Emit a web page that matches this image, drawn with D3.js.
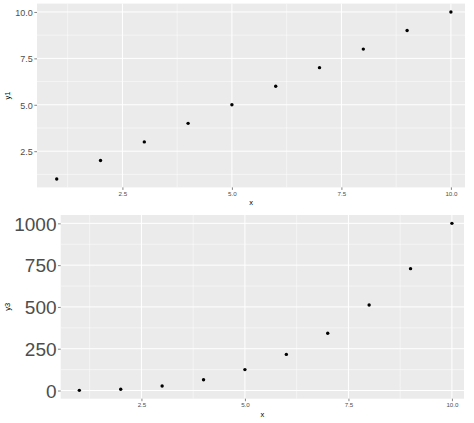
<!DOCTYPE html>
<html>
<head>
<meta charset="utf-8">
<script src="https://cdn.jsdelivr.net/npm/d3@7"></script>
<style>
  body { margin: 0; background: #fff; }
  svg { display: block; font-family: "Liberation Sans", Arial, sans-serif; }
</style>
</head>
<body>
<div class="chart"></div>
<script>
var svgWidth = 474;
var svgHeight = 423;

// data
var xVals = [1, 2, 3, 4, 5, 6, 7, 8, 9, 10];
var y1Vals = [1, 2, 3, 4, 5, 6, 7, 8, 9, 10];
var y3Vals = [1, 8, 27, 64, 125, 216, 343, 512, 729, 1000];
var xTicks = [2.5, 5.0, 7.5, 10.0];
var y1Ticks = [2.5, 5.0, 7.5, 10.0];
var y3Ticks = [0, 250, 500, 750, 1000];

var svg = d3.select(".chart")
  .append("svg")
  .attr("width", svgWidth)
  .attr("height", svgHeight);

// panel box in pixels; right edge of the plot is cut off a little
function drawPanel(p) {
  var xScale = d3.scaleLinear()
    .domain([0.55, 10.45])
    .range([p.left, p.left + p.unitX * 9.9]);

  var yExt = d3.extent(p.yData);
  var pad = (yExt[1] - yExt[0]) * 0.05;
  var yScale = d3.scaleLinear()
    .domain([yExt[0] - pad, yExt[1] + pad])
    .range([p.bottom, p.top]);

  var g = svg.append("g");

  g.append("rect")
    .attr("x", p.left)
    .attr("y", p.top)
    .attr("width", p.right - p.left)
    .attr("height", p.bottom - p.top)
    .attr("fill", "#EBEBEB");

  // minor grid
  var xMinor = xTicks.map(d => d - 1.25).filter(d => xScale(d) > p.left);
  var yMinor = p.yTicks.map(d => d - (p.yTicks[1] - p.yTicks[0]) / 2)
    .filter(d => yScale(d) < p.bottom);

  g.selectAll(".xminor").data(xMinor).enter().append("line")
    .attr("x1", d => xScale(d)).attr("x2", d => xScale(d))
    .attr("y1", p.top).attr("y2", p.bottom)
    .attr("stroke", "#fff").attr("stroke-width", 0.5);

  g.selectAll(".yminor").data(yMinor).enter().append("line")
    .attr("x1", p.left).attr("x2", p.right)
    .attr("y1", d => yScale(d)).attr("y2", d => yScale(d))
    .attr("stroke", "#fff").attr("stroke-width", 0.5);

  // major grid
  g.selectAll(".xmajor").data(xTicks).enter().append("line")
    .attr("x1", d => xScale(d)).attr("x2", d => xScale(d))
    .attr("y1", p.top).attr("y2", p.bottom)
    .attr("stroke", "#fff").attr("stroke-width", 1);

  g.selectAll(".ymajor").data(p.yTicks).enter().append("line")
    .attr("x1", p.left).attr("x2", p.right)
    .attr("y1", d => yScale(d)).attr("y2", d => yScale(d))
    .attr("stroke", "#fff").attr("stroke-width", 1);

  // points
  g.selectAll("circle").data(xVals).enter().append("circle")
    .attr("cx", d => xScale(d))
    .attr("cy", (d, i) => yScale(p.yData[i]))
    .attr("r", 1.7)
    .attr("fill", "#000");

  // axes
  var bottomAxis = d3.axisBottom(xScale)
    .tickValues(xTicks)
    .tickSize(2.5)
    .tickPadding(1.5)
    .tickFormat(d3.format(".1f"));

  var xAxis = g.append("g")
    .attr("transform", `translate(0, ${p.bottom})`)
    .call(bottomAxis);
  xAxis.select(".domain").remove();
  xAxis.selectAll("line").attr("stroke", "#333").attr("stroke-width", 0.6);
  xAxis.selectAll("text").attr("fill", "#4D4D4D").attr("font-size", 6.2);

  var leftAxis = d3.axisLeft(yScale)
    .tickValues(p.yTicks)
    .tickSize(2.7)
    .tickPadding(1.5)
    .tickFormat(p.yFormat);

  var yAxis = g.append("g")
    .attr("transform", `translate(${p.left}, 0)`)
    .call(leftAxis);
  yAxis.select(".domain").remove();
  yAxis.selectAll("line").attr("stroke", "#333").attr("stroke-width", 0.6);
  yAxis.selectAll("text")
    .attr("fill", "#4D4D4D")
    .attr("font-size", p.yFontSize)
    .attr("dy", "0.36em");

  // axis titles
  g.append("text")
    .attr("x", (p.left + p.right) / 2)
    .attr("y", p.bottom + 18)
    .attr("text-anchor", "middle")
    .attr("font-size", 7.5)
    .attr("fill", "#000")
    .text("x");

  g.append("text")
    .attr("transform", `translate(10, ${(p.top + p.bottom) / 2}) rotate(-90)`)
    .attr("text-anchor", "middle")
    .attr("font-size", 7.5)
    .attr("fill", "#000")
    .text(p.yLabel);
}

drawPanel({
  left: 37, right: 465, top: 3.6, bottom: 187.4, unitX: 43.8,
  yData: y1Vals, yTicks: y1Ticks, yFormat: d3.format(".1f"),
  yFontSize: 9, yLabel: "y1"
});

drawPanel({
  left: 60.7, right: 464, top: 215, bottom: 398.7, unitX: 41.4,
  yData: y3Vals, yTicks: y3Ticks, yFormat: d3.format("d"),
  yFontSize: 19, yLabel: "y3"
});
</script>
</body>
</html>
